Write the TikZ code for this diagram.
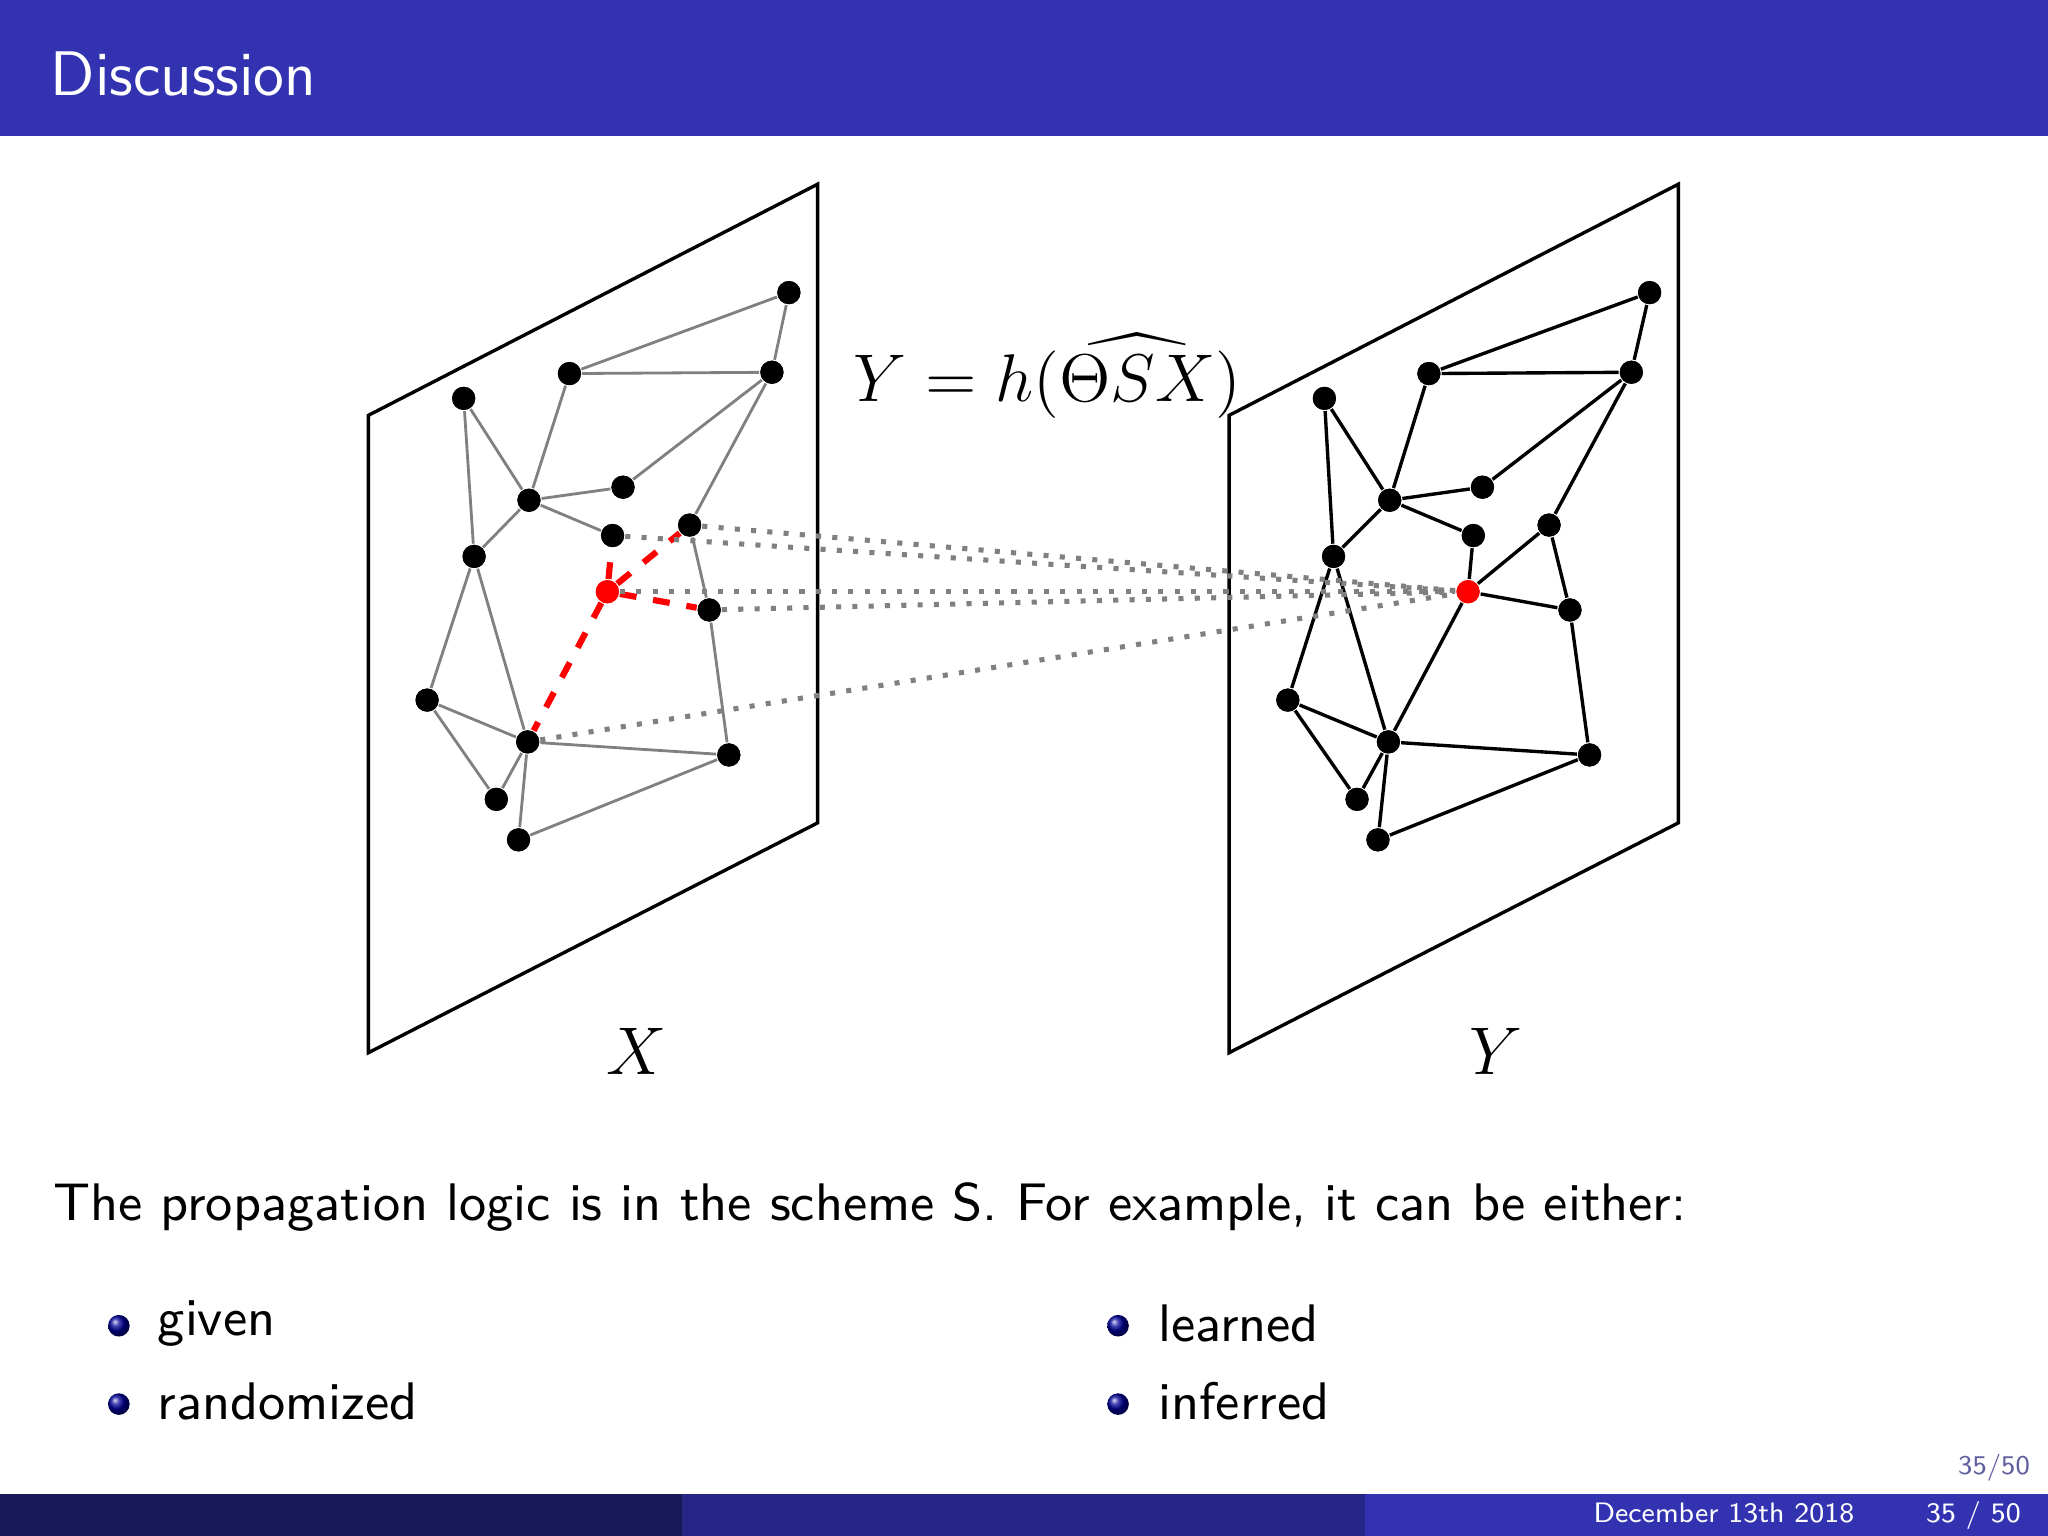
\documentclass[tikz,border=0pt]{standalone}
\usepackage{amsmath}
\renewcommand{\familydefault}{\sfdefault}
\begin{document}
\begin{tikzpicture}[x={(0.08163mm,0)},y={(0,-0.08163mm)},
  dot/.style={circle,fill=black,inner sep=0pt,minimum size=1.45mm},
  rdot/.style={circle,fill=red,inner sep=0pt,minimum size=1.45mm},
  ge/.style={draw=gray,line width=0.5pt},
  be/.style={draw=black,line width=0.6pt},
  re/.style={draw=red,dashed,line width=1.1pt},
  de/.style={draw=gray,dotted,line width=0.9pt},
  plane/.style={draw=black,line width=0.6pt},
  bf/.style={anchor=west,font=\fontsize{9.4}{11}\selectfont},
  bul/.style={circle,inner sep=0pt,minimum size=1.35mm,ball color=blue!60!black}]
\useasboundingbox (0,0) rectangle (1568,1176);
\fill[white] (0,0) rectangle (1568,1176);
\fill[fill={rgb,255:red,51;green,51;blue,178}] (0,0) rectangle (1568,104);
\node[anchor=west,text=white,font=\fontsize{11.2}{13}\selectfont,inner sep=0pt] (title) at (38,57) {Discussion};
% footer
\fill[fill={rgb,255:red,25;green,25;blue,89}] (0,1144) rectangle (522,1176);
\fill[fill={rgb,255:red,38;green,38;blue,134}] (522,1144) rectangle (1045,1176);
\fill[fill={rgb,255:red,51;green,51;blue,178}] (1045,1144) rectangle (1568,1176);
\node[anchor=east,text=white,font=\fontsize{5}{6}\selectfont,inner sep=0pt] (date) at (1548,1160) {December 13th 2018\hspace{4.5mm}35 / 50};
\node[anchor=east,text=blue!25!gray,font=\fontsize{4.8}{6}\selectfont,inner sep=0pt] (pg) at (1555,1124) {35/50};
% planes
\draw[plane] (282,318) -- (626,141) -- (626,630) -- (282,806) -- cycle;
\draw[plane] (941,318) -- (1285,141) -- (1285,630) -- (941,806) -- cycle;
\node[font=\fontsize{11.5}{13}\selectfont] (lx) at (487,805) {$X$};
\node[font=\fontsize{11.5}{13}\selectfont] (ly) at (1145,805) {$Y$};
\node[font=\fontsize{11.5}{13}\selectfont] (eq) at (802,288) {$Y = h(\widehat{\Theta S X})$};
% graphs
\foreach \n/\x/\y in {A/604/224,B/591/285,C/436/286,D/355/305,E/405/383,F/477/373,G/469/410,H/528/402,I/543/467,J/363/426,K/327/536,L/404/568,M/558/578,N/380/612,O/397/643}
  \node[dot] (l\n) at (\x,\y) {};
\node[rdot] (lR) at (465,453) {};
\foreach \n/\x/\y in {A/1263/224,B/1249/285,C/1094/286,D/1014/305,E/1064/383,F/1135/373,G/1128/410,H/1186/402,I/1202/467,J/1021/426,K/986/536,L/1063/568,M/1217/578,N/1039/612,O/1055/643}
  \node[dot] (r\n) at (\x,\y) {};
\node[rdot] (rR) at (1124,453) {};
\foreach \a/\b in {A/C,A/B,C/B,C/E,D/E,D/J,E/F,E/G,E/J,F/B,B/H,H/I,J/K,J/L,K/L,K/N,L/N,L/O,L/M,M/O,I/M}{
  \draw[ge] (l\a) -- (l\b);
  \draw[be] (r\a) -- (r\b);}
\foreach \a in {G,H,I,L}{
  \draw[re] (lR) -- (l\a);
  \draw[be] (rR) -- (r\a);}
\foreach \a in {G,H,R,I,L}
  \draw[de] (l\a) -- (rR);
\foreach \n in {A,B,C,D,E,F,G,H,I,J,K,L,M,N,O}{
  \node[dot] at (l\n) {}; \node[dot] at (r\n) {};}
\node[rdot] at (lR) {}; \node[rdot] at (rR) {};
% text
\node[bf,inner sep=0pt] (txt) at (40,924) {The propagation logic is in the scheme S. For example, it can be either:};
\node[bul] (b1) at (91,1015) {};
\node[bf,inner sep=0pt] (t1) at (120,1013) {given};
\node[bul] (b2) at (91,1075) {};
\node[bf,inner sep=0pt] (t2) at (120,1073) {randomized};
\node[bul] (b3) at (856,1015) {};
\node[bf,inner sep=0pt] (t3) at (886,1013) {learned};
\node[bul] (b4) at (856,1075) {};
\node[bf,inner sep=0pt] (t4) at (886,1073) {inferred};
\end{tikzpicture}
\end{document}
